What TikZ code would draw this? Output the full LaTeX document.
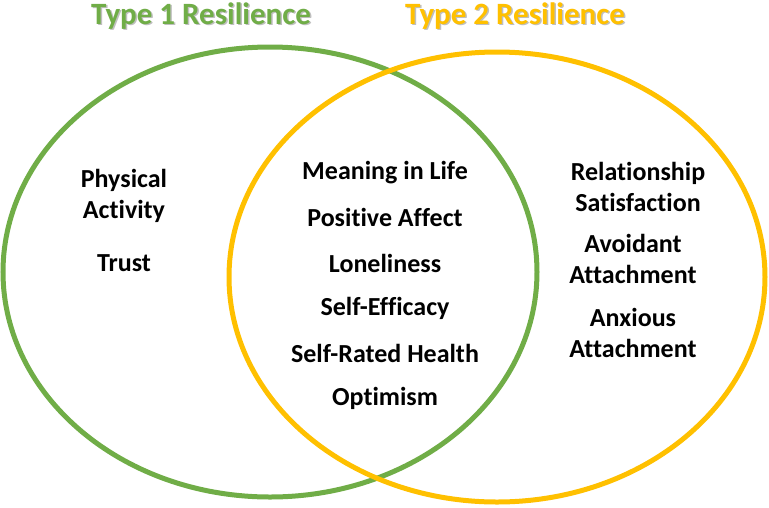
\documentclass[tikz,border=0pt]{standalone}
\usepackage{fontspec}
\setmainfont[Ligatures=NoCommon]{Carlito}
\definecolor{vgreen}{HTML}{70AD47}
\definecolor{vyellow}{HTML}{FFC000}
\begin{document}
\begin{tikzpicture}[x=1pt,y=-1pt,
  lbl/.style={font=\fontsize{26}{31}\selectfont\bfseries, align=center, inner sep=0pt},
  ttl/.style={font=\fontsize{31}{36}\selectfont\bfseries, inner sep=0pt},
  ring/.style={line width=5pt}]
\useasboundingbox (0,0) rectangle (769,507);
\draw[ring, vgreen] (270,272) ellipse [x radius=267, y radius=225];
\draw[ring, vyellow] (497,277) ellipse [x radius=268, y radius=225];
% titles with shadow
\node[ttl, text=black!25] at (202.5,17.5) {Type 1 Resilience};
\node[ttl, text=vgreen] (t1) at (201,16) {Type 1 Resilience};
\node[ttl, text=black!25] at (516.5,17.5) {Type 2 Resilience};
\node[ttl, text=vyellow] (t2) at (515,16) {Type 2 Resilience};
% left
\node[lbl] (pa) at (124,196) {Physical\\Activity};
\node[lbl] (tr) at (124,263) {Trust};
% center
\node[lbl] (m) at (385,173) {Meaning in Life};
\node[lbl] (p) at (385,217) {Positive Affect};
\node[lbl] (l) at (385,263) {Loneliness};
\node[lbl] (s) at (385,308) {Self-Efficacy};
\node[lbl] (h) at (385,353) {Self-Rated Health};
\node[lbl] (o) at (385,398) {Optimism};
% right
\node[lbl] (rs) at (638,187) {Relationship\\Satisfaction};
\node[lbl] (av) at (633,259) {Avoidant\\Attachment};
\node[lbl] (an) at (633,333) {Anxious\\Attachment};
\end{tikzpicture}
\end{document}
